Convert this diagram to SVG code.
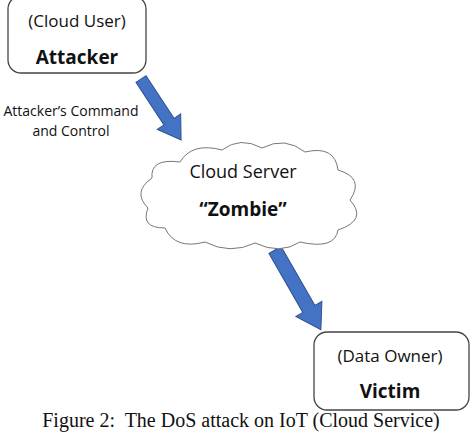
<svg xmlns="http://www.w3.org/2000/svg" width="474" height="439" viewBox="0 0 474 439">
<style>
.box{fill:#fff;stroke:#444;stroke-width:1.3}
.cloud{fill:#fff;stroke:#777;stroke-width:1}
.arr{fill:#4472C4;stroke:#2F528F;stroke-width:1}
.t{font-family:"Open Sans","Liberation Sans",sans-serif;fill:#111;text-anchor:middle}
.b{font-weight:bold}
.cap{font-family:"Liberation Serif",serif;fill:#111;text-anchor:middle;white-space:pre}
</style>
<rect width="474" height="439" fill="#fff"/>
<g id="connectors">
<path class="arr" d="M0,-6 L51,-6 L51,-14 L73,0 L51,14 L51,6 L0,6 Z" transform="translate(141,79) rotate(56.7)"/>
<path class="arr" d="M0,-7 L68,-7 L68,-15 L92,0 L68,15 L68,7 L0,7 Z" transform="translate(275,250) rotate(60.1)"/>
</g>
<g id="attacker">
<rect class="box" x="8" y="-4" width="138" height="77" rx="13"/>
<text class="t" x="77" y="27" font-size="17">(Cloud User)</text>
<text class="t b" x="77" y="64" font-size="19">Attacker</text>
</g>
<g id="label">
<text class="t" x="71" y="116" font-size="14">Attacker’s Command</text>
<text class="t" x="71" y="136" font-size="14">and Control</text>
</g>
<g id="cloud">
<path class="cloud" d="M165,228 Q140,228 148,208 Q132,192 152,178 Q150,158 180,162 Q192,142 222,150 Q240,136 262,148 Q285,136 305,152 Q335,145 338,170 Q365,178 350,200 Q368,220 338,230 Q335,250 300,242 Q280,255 255,243 Q230,255 205,242 Q175,250 165,228 Z"/>
<text class="t" x="243" y="178" font-size="18">Cloud Server</text>
<text class="t b" x="243" y="216" font-size="19">“Zombie”</text>
</g>
<g id="victim">
<rect class="box" x="314" y="332" width="155" height="78" rx="13"/>
<text class="t" x="390" y="362" font-size="17">(Data Owner)</text>
<text class="t b" x="390" y="398" font-size="19">Victim</text>
</g>
<text class="cap" x="241" y="427" font-size="20" xml:space="preserve">Figure 2:  The DoS attack on IoT (Cloud Service)</text>
</svg>
